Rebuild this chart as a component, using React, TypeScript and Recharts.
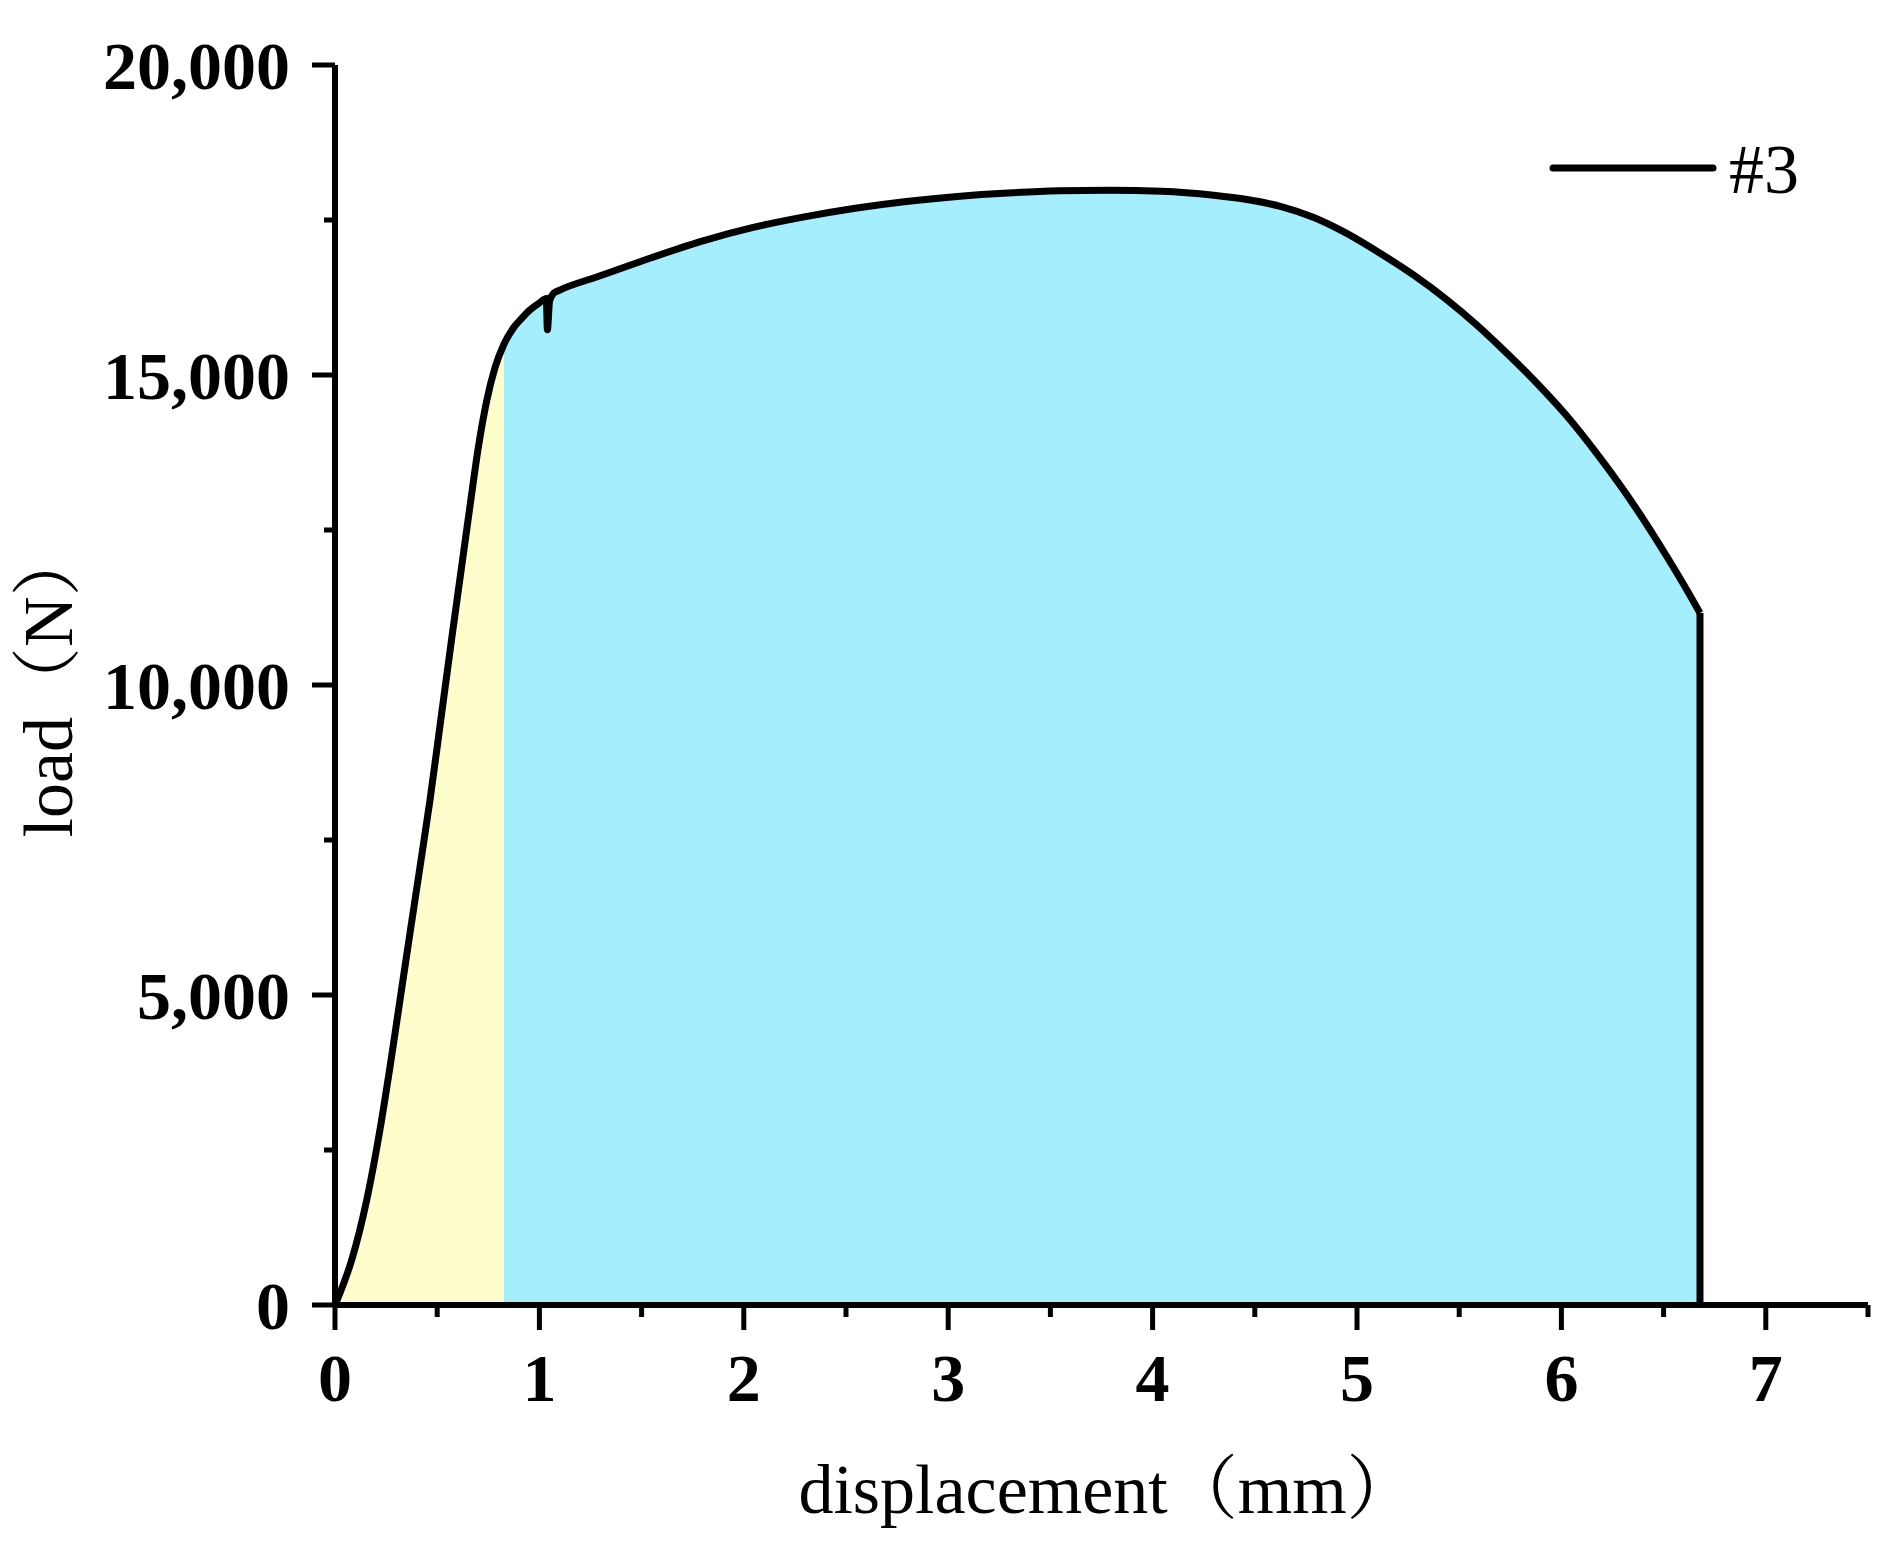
import React from 'react';
import { ComposedChart, Area, Line, XAxis, YAxis, Legend } from 'recharts';

const FONT = "'Liberation Serif', 'Times New Roman', 'Noto Serif CJK SC', 'Noto Sans CJK SC', serif";

// displacement (mm)
const displacement = [
  0, 0.024, 0.082, 0.155, 0.217, 0.269, 0.318, 0.367, 0.416, 0.465, 0.514, 0.571, 0.62, 0.661,
  0.702, 0.742, 0.783, 0.827, 0.873, 0.91, 0.954, 1.0, 1.034, 1.039, 1.05, 1.07, 1.1, 1.28, 1.443,
  1.547, 1.796, 2.046, 2.296, 2.545, 2.795, 3.045, 3.294, 3.544, 3.793, 4.043, 4.299, 4.462, 4.625,
  4.789, 4.952, 5.115, 5.278, 5.441, 5.588, 5.702, 5.865, 6.029, 6.192, 6.355, 6.518, 6.616, 6.678,
];
// load (N)
const load = [
  0, 190, 730, 1690, 2770, 3840, 4920, 6000, 7070, 8150, 9350, 10750, 11920, 12900,
  13850, 14580, 15120, 15500, 15760, 15900, 16050, 16165, 16235, 15730, 16200, 16320, 16370, 16580, 16770,
  16890, 17160, 17380, 17550, 17690, 17800, 17880, 17935, 17970, 17980, 17965, 17900, 17830, 17720,
  17540, 17280, 16960, 16610, 16210, 15800, 15450, 14920, 14330, 13650, 12900, 12060, 11520, 11160,
];
// boundary between the yellow (elastic) and blue (plastic) regions
const elasticLimit = 0.827;
// fracture: load drops to zero at the last displacement
const fractureLoad = 0;

const xTicks = [0, 0.5, 1, 1.5, 2, 2.5, 3, 3.5, 4, 4.5, 5, 5.5, 6, 6.5, 7, 7.5];
const yTicks = [0, 2500, 5000, 7500, 10000, 12500, 15000, 17500, 20000];
const seriesName = '#3';

const lastIdx = displacement.length - 1;
const rows: any[] = displacement.map((x, i) => ({
  x,
  load: load[i],
  elastic: x <= elasticLimit ? load[i] : null,
  plastic: x >= elasticLimit ? load[i] : null,
  drop: i === lastIdx ? load[i] : null,
}));
rows.push({ x: displacement[lastIdx], load: null, elastic: null, plastic: null, drop: fractureLoad });

function YTick(props: any) {
  const { x, y, payload } = props;
  const v = payload.value as number;
  const major = v % 5000 === 0;
  return (
    <g>
      <line x1={x - (major ? 23 : 11)} x2={x} y1={y} y2={y} stroke="#000" strokeWidth={5} />
      {major && (
        <text x={x - 45} y={y} dy="0.355em" textAnchor="end" fontFamily={FONT} fontWeight="bold" fontSize={68} fill="#000">
          {v.toLocaleString('en-US')}
        </text>
      )}
    </g>
  );
}

function XTick(props: any) {
  const { x, y, payload } = props;
  const v = payload.value as number;
  const major = Number.isInteger(v);
  return (
    <g>
      <line x1={x} x2={x} y1={y} y2={y + (major ? 25 : 12)} stroke="#000" strokeWidth={5} />
      {major && (
        <text x={x} y={y + 48} dy="0.71em" textAnchor="middle" fontFamily={FONT} fontWeight="bold" fontSize={68} fill="#000">
          {String(v)}
        </text>
      )}
    </g>
  );
}

export default function App() {
  return (
    <ComposedChart width={1891} height={1530} data={rows} margin={{ top: 57, right: 31, bottom: 0, left: 0 }}>
      <XAxis
        type="number"
        dataKey="x"
        domain={[0, 7.5]}
        ticks={xTicks}
        interval={0}
        height={233}
        tickSize={0}
        tickMargin={0}
        tickLine={false}
        axisLine={{ stroke: '#000', strokeWidth: 6 }}
        tick={(p: any) => <XTick {...p} />}
        label={(p: any) => {
          const vb = p.viewBox;
          return (
            <text x={vb.x + vb.width / 2 + 6} y={vb.y + vb.height - 25} textAnchor="middle" fontFamily={FONT} fontSize={70} fill="#000">
              displacement（mm）
            </text>
          );
        }}
      />
      <YAxis
        type="number"
        domain={[0, 20000]}
        ticks={yTicks}
        interval={0}
        width={327}
        tickSize={0}
        tickMargin={0}
        tickLine={false}
        axisLine={{ stroke: '#000', strokeWidth: 6 }}
        tick={(p: any) => <YTick {...p} />}
        label={(p: any) => {
          const vb = p.viewBox;
          const cx = vb.x + 64;
          const cy = vb.y + vb.height / 2 - 3;
          return (
            <text x={cx} y={cy} transform={`rotate(-90, ${cx}, ${cy})`} textAnchor="middle" fontFamily={FONT} fontSize={70} fill="#000">
              load（N）
            </text>
          );
        }}
      />
      <Area type="monotone" dataKey="elastic" stroke="none" fill="#FFFDCC" fillOpacity={1} isAnimationActive={false} legendType="none" connectNulls={false} />
      <Area type="monotone" dataKey="plastic" stroke="none" fill="#A4EEFE" fillOpacity={1} isAnimationActive={false} legendType="none" connectNulls={false} />
      <Line type="monotone" dataKey="load" name={seriesName} stroke="#000" strokeWidth={7} strokeLinejoin="round" dot={false} activeDot={false} isAnimationActive={false} connectNulls={false} />
      <Line type="linear" dataKey="drop" legendType="none" stroke="#000" strokeWidth={7} dot={false} activeDot={false} isAnimationActive={false} connectNulls={false} />
      <Legend
        layout="horizontal"
        verticalAlign="middle"
        align="center"
        wrapperStyle={{ position: 'absolute', left: 1535, top: 120, width: 320, height: 90 }}
        content={() => (
          <svg width={320} height={90}>
            <line x1={10} x2={170} y1={40} y2={40} stroke="#000" strokeWidth={7} strokeLinecap="round" />
            <text x={186} y={40} dy="0.355em" fontSize={70} fontFamily={FONT} fill="#000">
              {seriesName}
            </text>
          </svg>
        )}
      />
    </ComposedChart>
  );
}
